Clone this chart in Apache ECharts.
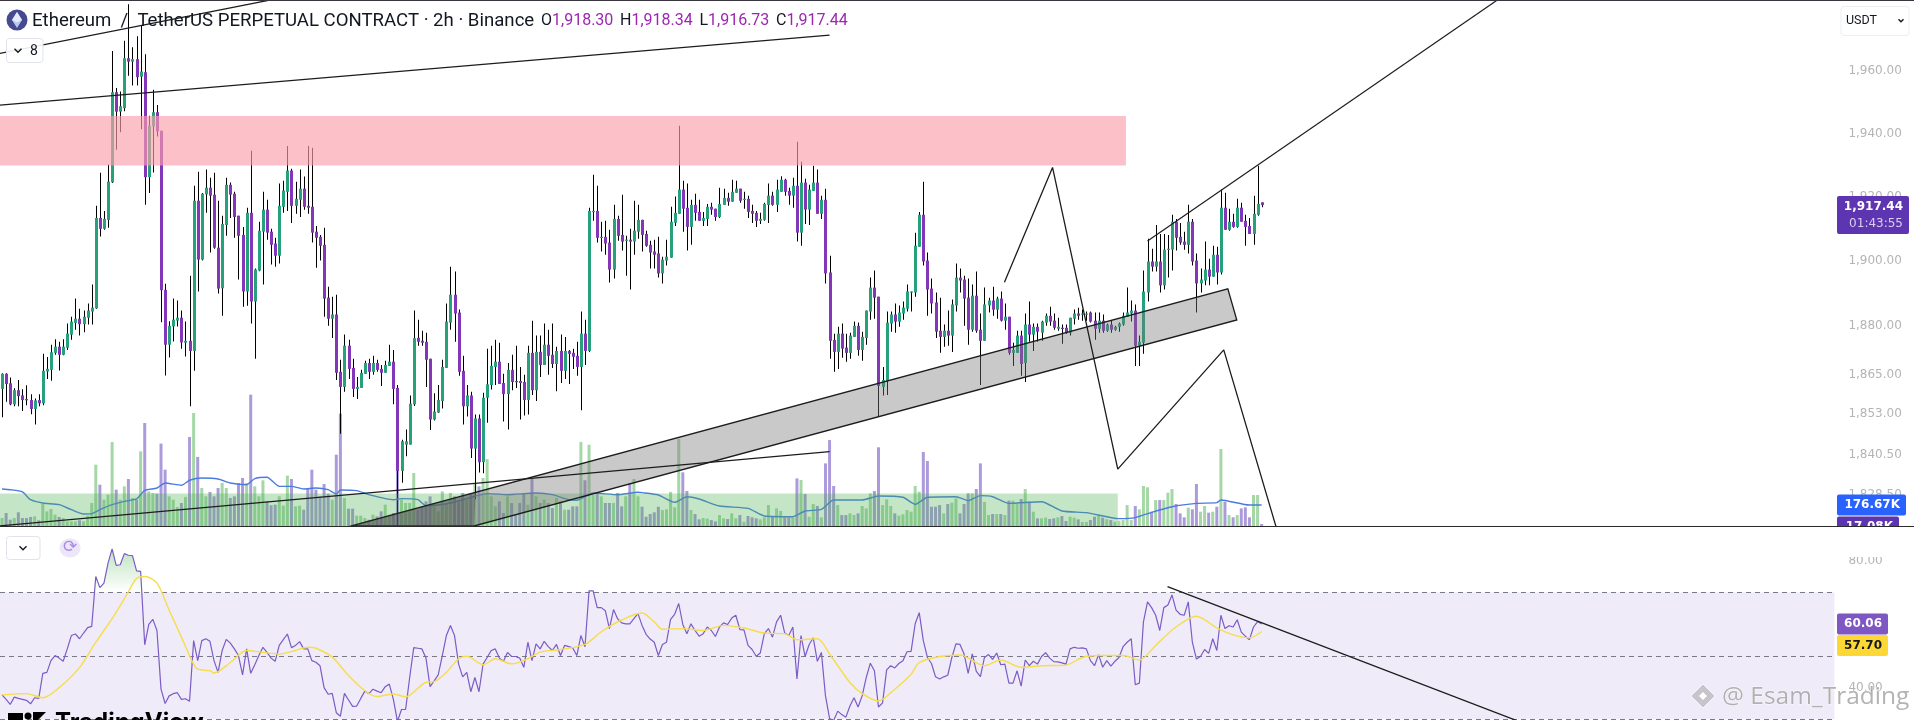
<!DOCTYPE html>
<html><head><meta charset="utf-8"><style>html,body{margin:0;padding:0;background:#fff}#c{width:1914px;height:720px}</style>
<script src="https://cdn.jsdelivr.net/npm/echarts@6/dist/echarts.min.js"></script></head><body><div id="c"></div>
<script>
const opens=[1860.6,1865.2,1862.3,1855.9,1860.2,1858.6,1857.5,1857.2,1854.5,1857.2,1856.2,1865.9,1866.4,1871.6,1873.5,1871.0,1873.2,1877.2,1880.8,1882.1,1880.4,1882.4,1884.3,1885.3,1913.4,1910.0,1912.8,1924.6,1953.2,1947.0,1948.1,1964.1,1963.0,1963.8,1958.2,1959.6,1926.2,1942.3,1946.8,1940.9,1891.0,1874.1,1879.7,1881.5,1882.4,1874.7,1875.3,1872.2,1918.8,1900.4,1920.8,1922.9,1920.7,1904.1,1891.5,1911.2,1923.8,1921.0,1914.1,1908.1,1890.5,1915.0,1887.4,1897.0,1909.1,1916.0,1909.1,1905.4,1901.6,1916.9,1921.6,1928.3,1917.2,1919.1,1922.6,1917.2,1916.9,1909.1,1907.5,1905.0,1888.6,1882.1,1883.4,1865.8,1861.2,1873.8,1867.0,1860.6,1860.9,1865.2,1868.5,1865.8,1868.5,1866.7,1865.5,1867.6,1868.9,1860.9,1835.8,1843.7,1843.7,1855.9,1876.2,1875.3,1875.0,1869.8,1851.3,1853.4,1856.9,1867.0,1880.9,1889.5,1884.0,1866.1,1855.3,1858.6,1842.5,1851.6,1838.4,1857.9,1861.8,1867.3,1868.9,1862.4,1859.0,1866.4,1863.0,1863.0,1862.7,1857.2,1871.6,1860.2,1871.9,1867.9,1874.1,1871.0,1868.2,1872.2,1866.1,1872.2,1871.6,1870.7,1867.3,1877.5,1872.2,1915.3,1915.6,1907.2,1907.5,1905.7,1897.3,1913.1,1908.1,1906.3,1906.6,1906.0,1909.1,1912.8,1908.4,1905.0,1902.9,1902.3,1896.1,1900.1,1901.0,1911.9,1914.7,1922.3,1916.6,1910.6,1917.5,1915.3,1912.5,1913.1,1916.9,1916.3,1913.7,1917.5,1919.7,1918.5,1921.3,1922.6,1919.1,1919.4,1915.6,1915.0,1912.5,1912.8,1917.5,1920.4,1917.5,1921.6,1925.4,1921.9,1920.4,1923.5,1908.8,1924.5,1916.0,1921.9,1924.5,1914.7,1919.1,1896.4,1875.6,1871.9,1877.5,1873.2,1871.6,1876.5,1879.9,1872.5,1876.2,1884.3,1891.7,1888.9,1861.2,1863.0,1880.6,1883.4,1881.2,1883.7,1885.2,1890.2,1890.2,1904.4,1914.4,1900.1,1891.4,1887.1,1878.4,1876.5,1878.4,1876.9,1886.2,1894.8,1894.2,1888.6,1878.7,1889.2,1878.7,1875.3,1886.2,1887.7,1884.9,1888.3,1881.5,1882.7,1871.6,1871.6,1876.9,1868.5,1880.3,1877.2,1879.6,1877.8,1880.9,1883.0,1881.5,1879.0,1879.3,1879.3,1877.8,1882.1,1883.7,1883.4,1883.4,1884.0,1881.5,1879.0,1881.5,1878.4,1880.3,1878.7,1879.6,1880.3,1882.7,1883.7,1884.6,1873.8,1874.7,1890.2,1899.8,1898.2,1899.8,1892.4,1903.5,1903.5,1912.2,1907.5,1906.0,1905.0,1912.2,1900.1,1893.0,1893.9,1897.3,1895.1,1901.9,1896.4,1916.6,1909.7,1912.2,1910.6,1916.6,1912.5,1910.9,1908.4,1914.4,1918.30];
const closes=[1865.2,1862.1,1855.9,1860.2,1858.4,1857.2,1857.3,1854.5,1857.1,1856.2,1866.1,1866.7,1871.8,1873.5,1871.0,1873.5,1877.5,1881.2,1882.1,1880.4,1882.7,1884.6,1885.5,1913.4,1910.0,1913.1,1924.8,1953.2,1947.0,1948.7,1964.1,1963.0,1963.8,1958.0,1959.8,1926.2,1942.5,1946.8,1940.7,1890.9,1874.1,1879.9,1881.8,1882.4,1874.8,1875.3,1872.2,1918.8,1900.4,1921.0,1922.9,1920.4,1904.1,1891.4,1911.5,1923.8,1920.7,1913.7,1907.8,1890.5,1915.0,1887.4,1897.3,1909.4,1916.0,1908.8,1905.0,1901.6,1917.2,1922.0,1928.3,1917.2,1919.4,1922.6,1916.9,1916.6,1908.8,1907.2,1904.7,1888.3,1882.1,1883.4,1865.5,1861.2,1873.8,1866.7,1860.6,1861.2,1865.5,1868.5,1865.8,1868.5,1866.4,1865.5,1867.9,1868.9,1860.6,1835.8,1844.7,1844.7,1856.1,1876.1,1875.0,1874.7,1869.5,1851.3,1853.7,1857.2,1867.3,1881.2,1889.5,1883.7,1865.8,1855.3,1858.6,1842.5,1851.6,1838.4,1857.9,1862.0,1867.6,1868.9,1862.1,1859.0,1866.4,1862.7,1862.7,1862.4,1857.2,1871.6,1860.2,1871.9,1867.9,1874.1,1870.7,1868.2,1872.2,1866.1,1872.2,1871.3,1870.4,1867.3,1877.5,1872.2,1915.6,1915.6,1907.2,1907.5,1905.4,1897.3,1913.1,1907.8,1906.0,1906.6,1906.0,1909.4,1912.8,1908.1,1904.7,1902.6,1901.9,1896.1,1900.4,1901.3,1912.2,1915.0,1922.3,1916.3,1910.6,1917.5,1915.0,1912.5,1913.4,1916.9,1916.0,1913.7,1917.8,1919.7,1918.5,1921.6,1922.6,1918.8,1919.4,1915.3,1914.7,1912.5,1913.1,1917.8,1920.4,1917.5,1922.3,1925.4,1921.6,1920.4,1923.5,1908.8,1924.5,1916.0,1922.3,1924.5,1914.7,1919.1,1896.1,1875.3,1871.9,1877.5,1872.9,1871.6,1876.9,1879.9,1872.5,1876.5,1884.6,1891.7,1888.6,1861.5,1863.3,1880.9,1883.4,1881.2,1884.0,1885.5,1890.5,1890.5,1904.7,1914.4,1899.8,1891.1,1886.8,1878.1,1876.5,1878.4,1876.9,1886.5,1894.8,1893.9,1888.3,1878.7,1889.2,1878.4,1875.3,1886.5,1887.7,1884.9,1888.3,1881.5,1882.7,1871.6,1872.5,1876.9,1868.2,1880.3,1877.2,1879.6,1878.1,1881.2,1883.0,1881.2,1879.3,1879.6,1879.0,1877.8,1882.4,1883.7,1883.0,1883.7,1883.7,1881.2,1879.0,1881.5,1878.4,1880.3,1878.7,1879.6,1880.6,1883.0,1884.0,1884.6,1873.8,1875.0,1890.5,1899.8,1898.2,1899.8,1892.4,1903.5,1903.8,1912.2,1907.2,1905.7,1905.0,1912.2,1899.8,1893.0,1894.2,1897.3,1895.1,1901.9,1896.4,1916.6,1909.7,1912.2,1910.6,1916.6,1912.2,1910.6,1908.4,1914.7,1917.8,1917.44];
const highs=[1865.4,1865.4,1864.1,1860.8,1863.3,1860.5,1861.7,1859.0,1857.7,1859.0,1871.3,1870.3,1874.1,1875.8,1875.0,1875.8,1880.6,1882.7,1888.3,1885.2,1884.6,1886.8,1892.7,1917.2,1927.6,1915.6,1930.2,1966.4,1954.5,1953.4,1969.7,1981.5,1967.6,1971.2,1974.7,1965.4,1945.7,1954.0,1949.1,1940.9,1892.9,1881.3,1888.3,1887.7,1884.6,1881.2,1895.4,1923.5,1927.9,1921.2,1928.6,1926.0,1927.6,1918.8,1914.1,1926.0,1924.5,1921.6,1914.1,1910.6,1916.6,1934.6,1897.6,1912.2,1921.6,1919.1,1910.0,1907.2,1924.2,1925.1,1936.1,1928.9,1924.8,1928.6,1926.4,1936.1,1935.5,1910.9,1908.1,1910.3,1892.0,1888.9,1889.5,1869.5,1877.2,1875.6,1869.8,1864.2,1866.4,1869.2,1869.8,1870.7,1869.5,1867.9,1869.2,1874.1,1872.5,1861.8,1845.2,1848.3,1858.6,1884.6,1881.8,1878.4,1877.8,1869.8,1859.3,1861.8,1869.5,1886.8,1898.2,1896.7,1884.9,1870.7,1861.8,1859.7,1852.8,1852.8,1859.4,1872.9,1873.8,1875.6,1874.7,1865.2,1868.5,1871.0,1873.8,1867.3,1864.9,1873.8,1881.5,1876.9,1876.9,1880.6,1878.7,1880.6,1873.5,1877.2,1876.5,1872.5,1872.9,1875.0,1884.3,1881.8,1916.6,1927.0,1923.5,1912.2,1912.5,1909.7,1917.5,1914.1,1920.7,1907.8,1910.0,1918.8,1917.5,1912.8,1909.4,1906.3,1906.6,1907.5,1901.3,1906.6,1916.9,1920.1,1942.5,1925.1,1924.2,1919.1,1921.0,1919.1,1915.3,1917.8,1918.2,1916.3,1922.9,1922.6,1921.3,1925.4,1925.1,1922.6,1921.6,1920.4,1917.5,1915.6,1915.0,1918.2,1924.2,1921.6,1925.4,1926.5,1925.7,1922.9,1926.0,1937.4,1931.1,1925.7,1923.8,1929.8,1928.6,1920.4,1922.6,1901.6,1877.5,1879.6,1880.6,1877.5,1877.8,1881.2,1880.9,1878.1,1884.6,1894.8,1897.0,1888.9,1867.3,1884.3,1884.3,1886.8,1886.2,1887.4,1892.7,1890.5,1908.8,1915.3,1924.8,1902.6,1894.5,1890.2,1888.6,1880.3,1884.6,1888.0,1899.2,1897.6,1895.4,1894.5,1892.7,1896.7,1883.7,1891.7,1888.6,1892.0,1888.9,1890.5,1886.8,1882.7,1874.7,1878.4,1878.4,1883.7,1887.4,1880.6,1880.6,1881.5,1883.7,1885.8,1883.7,1882.4,1880.3,1880.3,1882.4,1884.9,1885.5,1884.9,1884.3,1884.3,1884.0,1884.0,1883.4,1880.6,1881.5,1879.9,1880.9,1884.0,1891.7,1887.7,1886.5,1876.9,1897.0,1906.9,1903.8,1911.2,1908.4,1908.4,1908.1,1914.4,1913.1,1911.8,1909.1,1917.5,1913.1,1902.3,1897.6,1906.0,1900.7,1904.7,1904.4,1922.3,1921.3,1916.3,1914.7,1919.4,1918.2,1914.4,1913.4,1920.4,1929.8,1918.34];
const lows=[1852.0,1856.7,1855.6,1855.3,1855.3,1853.9,1855.6,1852.9,1849.8,1855.3,1855.6,1863.6,1863.1,1871.0,1866.2,1870.9,1872.5,1875.6,1878.7,1876.9,1877.9,1880.3,1880.3,1885.2,1907.6,1909.7,1910.3,1924.4,1934.9,1940.4,1947.1,1958.5,1955.3,1955.3,1941.4,1917.5,1921.2,1927.7,1939.1,1881.0,1864.7,1870.2,1875.1,1879.7,1872.9,1870.5,1855.3,1866.1,1890.5,1900.1,1915.0,1902.6,1903.8,1889.9,1883.0,1907.8,1913.4,1907.2,1894.2,1885.8,1886.1,1880.6,1869.8,1896.8,1892.7,1906.6,1898.9,1898.2,1899.2,1915.0,1915.6,1911.8,1914.7,1913.7,1916.0,1914.7,1905.7,1897.9,1900.1,1882.7,1879.9,1876.2,1863.3,1847.0,1859.7,1863.6,1858.1,1857.5,1860.9,1865.2,1863.6,1864.9,1865.8,1861.5,1865.5,1867.6,1855.9,1819.4,1832.2,1840.2,1843.7,1855.4,1873.8,1873.8,1861.2,1848.1,1851.0,1853.3,1854.6,1867.0,1878.7,1875.0,1864.6,1849.8,1852.2,1839.7,1827.3,1835.3,1835.1,1850.3,1860.4,1861.8,1862.1,1850.7,1848.3,1860.2,1860.9,1851.3,1852.5,1852.8,1858.7,1856.9,1864.2,1867.9,1864.9,1867.0,1859.9,1862.4,1863.6,1862.1,1866.7,1864.6,1854.1,1867.9,1871.9,1912.5,1905.7,1902.9,1901.9,1893.3,1894.5,1906.3,1903.2,1895.4,1891.1,1901.9,1906.9,1902.9,1904.4,1897.6,1897.6,1894.8,1893.0,1898.6,1901.0,1910.9,1914.7,1909.1,1903.2,1905.0,1912.5,1912.5,1910.9,1910.9,1914.4,1912.5,1913.4,1917.5,1917.2,1918.5,1921.3,1918.2,1916.3,1913.4,1911.8,1910.6,1911.5,1912.5,1911.8,1917.2,1915.3,1921.6,1920.4,1917.5,1916.6,1906.0,1904.7,1911.5,1911.2,1921.9,1914.7,1913.1,1893.0,1869.8,1865.8,1866.7,1870.1,1868.9,1869.8,1876.5,1870.7,1869.2,1874.1,1881.8,1882.1,1852.2,1858.6,1858.7,1878.1,1877.8,1879.6,1881.8,1884.3,1884.3,1888.9,1904.4,1898.6,1883.0,1883.7,1876.2,1871.6,1873.5,1873.8,1871.9,1884.3,1890.2,1879.9,1874.1,1878.1,1877.8,1861.8,1875.3,1884.0,1883.0,1882.1,1881.2,1878.7,1871.0,1867.6,1871.6,1864.6,1862.7,1875.0,1872.2,1875.0,1875.3,1879.9,1879.9,1878.7,1878.4,1874.4,1877.5,1876.9,1880.3,1881.8,1881.5,1881.5,1880.9,1875.6,1877.8,1877.8,1878.1,1877.8,1878.4,1878.1,1879.9,1882.7,1881.2,1867.6,1867.6,1871.3,1887.4,1896.7,1896.7,1890.2,1891.1,1894.8,1897.0,1903.2,1905.0,1903.5,1902.3,1898.6,1884.0,1890.2,1892.4,1892.4,1895.1,1892.7,1895.8,1909.7,1909.4,1910.3,1910.3,1912.2,1904.7,1908.4,1905.0,1914.1,1916.73];
const volumes=[67,109,53,67,115,67,67,76,81,48,185,123,143,95,76,67,39,39,39,48,39,87,193,515,347,221,263,706,305,221,333,395,235,221,627,865,291,277,272,692,473,249,221,160,193,244,748,949,580,319,249,286,249,319,361,319,235,249,361,403,361,1103,333,249,384,207,174,179,249,171,423,395,165,171,137,319,473,305,249,353,272,221,599,944,235,146,146,87,87,67,53,95,81,123,179,95,109,795,221,193,193,445,137,165,207,249,193,123,291,193,277,249,221,277,221,277,361,333,403,563,249,165,207,109,249,193,95,193,277,179,403,249,193,221,193,151,235,207,137,137,165,165,706,384,683,263,277,249,193,193,193,277,165,249,361,395,249,162,78,101,115,162,134,140,286,157,731,451,294,134,101,56,67,62,50,39,92,64,59,106,64,92,36,84,73,64,56,73,176,78,148,126,73,73,73,400,386,269,78,185,168,73,526,722,336,176,92,92,106,92,106,168,148,274,294,661,176,224,168,106,87,98,134,120,336,288,622,546,162,162,176,106,185,196,232,106,185,274,274,311,526,202,92,101,101,101,92,213,213,190,227,311,204,120,64,64,70,59,64,73,84,42,78,70,56,34,34,50,78,84,70,56,50,36,45,50,176,50,168,140,336,325,120,218,218,218,280,311,185,106,73,154,140,353,120,168,112,120,162,647,204,92,73,92,148,157,73,260,260,17.08];
const volumeMA=[[0,311],[2,305],[5,286],[7,221],[10,193],[14,179],[17,137],[20,101],[22,104],[24,137],[27,179],[30,207],[33,227],[35,299],[38,319],[40,361],[44,342],[46,384],[49,403],[53,395],[56,361],[60,347],[62,398],[65,409],[68,333],[71,333],[74,311],[77,319],[80,305],[82,269],[83,302],[87,297],[90,263],[96,221],[98,230],[102,221],[104,171],[110,193],[116,249],[119,272],[124,263],[131,277],[135,263],[139,221],[141,216],[145,277],[151,263],[156,283],[157,280],[161,260],[165,199],[168,246],[171,227],[176,168],[183,148],[187,84],[194,78],[197,126],[201,140],[204,218],[211,218],[215,252],[221,241],[224,182],[227,241],[234,246],[237,213],[240,255],[243,246],[247,190],[255,204],[260,126],[266,112],[274,62],[278,70],[282,115],[287,162],[293,190],[298,196],[299,218],[306,176],[309,176.67]];
const rsi=[37.7,36.3,34.7,37.0,36.6,36.3,36.0,34.9,36.8,36.6,44.5,44.8,48.5,50.1,49.3,48.3,52.2,56.4,56.9,55.4,57.2,58.9,59.3,75.0,71.5,72.9,79.2,83.7,78.5,78.7,82.2,81.7,81.6,76.8,76.6,53.5,59.9,61.5,58.0,39.5,35.0,37.4,38.1,38.4,36.3,36.5,35.7,54.8,48.5,54.8,55.4,54.6,48.5,44.8,51.7,55.2,54.0,52.2,50.1,44.0,52.2,44.5,47.2,50.1,52.7,51.1,49.3,48.3,53.3,55.1,56.9,52.6,53.3,54.5,52.2,52.2,48.5,48.0,46.9,40.0,37.9,38.2,32.1,31.0,38.2,36.1,34.1,34.2,36.6,38.9,38.1,39.5,38.9,38.4,40.3,41.1,36.3,29.4,33.1,33.1,43.2,52.6,52.4,52.2,49.3,40.3,42.1,44.0,50.1,56.4,59.6,56.4,47.4,43.4,44.8,38.7,43.2,38.7,47.4,49.5,51.7,52.2,49.3,48.3,51.1,49.8,49.8,49.3,46.4,54.3,48.5,53.8,52.2,54.6,52.9,51.7,53.6,50.1,53.3,52.9,52.5,50.1,56.4,52.9,70.5,70.5,65.2,65.2,64.2,58.6,64.6,61.7,60.4,60.1,60.1,61.7,63.3,59.6,56.8,55.3,54.3,50.1,53.6,54.3,61.5,63.1,66.5,59.9,57.0,60.1,58.0,56.2,57.0,59.1,58.0,56.1,59.1,60.4,59.9,61.9,62.8,58.3,58.2,53.3,52.0,49.9,50.9,57.0,58.6,55.9,60.7,62.8,57.2,56.4,59.1,42.7,56.4,49.8,53.6,55.7,48.3,51.1,37.4,30.3,29.6,32.6,31.5,30.7,34.2,36.8,33.9,37.4,43.2,47.7,45.3,33.9,35.2,45.6,46.9,46.2,47.6,48.5,51.3,51.4,60.1,63.6,54.8,49.5,47.6,43.4,42.7,43.4,43.9,49.5,53.8,53.6,50.6,44.5,50.6,45.1,43.5,49.5,50.4,48.9,50.9,47.2,47.4,41.4,41.4,45.3,40.5,48.7,46.9,48.3,47.4,49.8,51.0,49.3,48.2,48.1,47.8,47.4,52.2,52.7,52.4,52.5,52.2,48.5,46.9,50.4,46.4,48.5,46.8,48.3,49.5,52.9,54.3,55.4,40.9,41.4,60.7,67.0,65.2,62.8,58.0,65.2,66.0,69.2,64.4,63.1,62.8,67.0,54.3,49.0,49.8,52.0,50.8,55.4,51.7,62.8,58.6,59.5,59.1,61.4,57.5,56.2,55.1,59.1,60.8,60.06];
const rsiMA=[[0,37.7],[6,38.1],[10,36.8],[14,40],[19,46.3],[23,54.3],[27,61.7],[31,70.2],[33,74.4],[35,75],[38,72.9],[41,64.4],[44,55.9],[47,47.4],[48,45.8],[51,45.3],[52,44.6],[56,47.9],[60,51.7],[64,51.1],[68,50.6],[72,51.7],[75,52.7],[77,52.4],[81,49.6],[85,43.8],[89,39],[92,37.2],[96,38],[99,37.1],[104,41.7],[106,41.9],[109,44.8],[112,49.1],[114,49.9],[118,47.2],[121,49.1],[125,47.5],[129,49.1],[132,51.2],[137,52],[143,53.6],[147,57.6],[152,61.3],[157,63.5],[160,60.7],[162,58.4],[167,58.6],[172,58],[177,59.6],[182,58.8],[187,57.2],[192,57],[195,55.1],[200,55.4],[203,50.6],[208,41.6],[211,38.1],[215,35.8],[219,39.5],[223,44.2],[225,47.9],[230,49.8],[235,50.3],[241,46.9],[245,48.7],[250,46.4],[255,46.9],[261,47.1],[265,49.5],[269,50.1],[275,50.1],[279,48.7],[283,53.3],[288,59.1],[293,62.5],[298,58.8],[302,56.6],[306,55.7],[309,57.7]];
const priceTicks=[1960,1940,1920,1900,1880,1865,1853,1840.5,1828.5];
const rsiTicks=[80,40];
const rsiLevels=[70,50,30];
const resistanceZone=[-1,1945.6,275.7,1929.9];
const volumeZone=[-1,1829.0,273.7,1810];
const channelBand=[85.7,1819.3,300.7,1891.3,302.9,1881.7,115.8,1819.3];
const channelShade=[85.7,1819.3,116.2,1829.3,116.2,1829.3,115.8,1819.3];
const trendA=[[-1,1965.5],[70,1984]];
const trendB=[[-1,1949.0],[203,1971.5]];
const trendC=[[-1,1819.3],[203,1841.6]];
const zigzagUpper=[[245.9,1893.4],[257.7,1929.3],[273.7,1836.3],[299.7,1872.5],[313.5,1815.1]];
const risingLine=[[281,1906.2],[370,1985.8]];
const rsiTrend=[[285.9,71.8],[372,29.4]];
const BARS=450;

const GREEN='#26a17b',PURPLE='#8436b8',STEP=4.078;
const candleData=opens.map((o,i)=>[i,o,highs[i],lows[i],closes[i]]);
const volumeData=volumes.map((v,i)=>({value:v,itemStyle:{color:closes[i]>=opens[i]?'rgba(76,175,80,0.5)':'rgba(103,72,190,0.55)'}}));
const categories=Array.from({length:BARS},(_,i)=>String(i));
const fmt=v=>Number(v).toLocaleString('en-US',{minimumFractionDigits:2,maximumFractionDigits:2});
const line=(data,extra)=>Object.assign({type:'line',xAxisIndex:1,yAxisIndex:0,data,symbol:'none',silent:true,z:8,lineStyle:{color:'#1c1c1c',width:1.3}},extra||{});

function renderCandle(p,api){
  const i=api.value(0),o=api.value(1),h=api.value(2),l=api.value(3),c=api.value(4);
  const x=Math.round(api.coord([i,o])[0]);
  const yH=api.coord([i,h])[1],yL=api.coord([i,l])[1],yO=api.coord([i,o])[1],yC=api.coord([i,c])[1];
  const top=Math.min(yO,yC),bh=Math.max(1.2,Math.abs(yO-yC));
  return {type:'group',children:[
    {type:'rect',shape:{x:x,y:yH,width:1,height:yL-yH},style:{fill:'#000'}},
    {type:'rect',shape:{x:x-1,y:top,width:3,height:bh},style:{fill:c>=o?GREEN:PURPLE}}
  ]};
}
function renderPoly(fill,stroke){return (p,api)=>{
  const pts=[];for(let k=0;k<8;k+=2)pts.push(api.coord([api.value(k),api.value(k+1)]));
  return {type:'polygon',shape:{points:pts},style:{fill,stroke:stroke||null,lineWidth:stroke?1.3:0}};
};}
function renderRect(fill){return (p,api)=>{
  const a=api.coord([api.value(0),api.value(1)]),b=api.coord([api.value(2),api.value(3)]);
  return {type:'rect',shape:{x:a[0],y:a[1],width:b[0]-a[0],height:b[1]-a[1]},style:{fill}};
};}
function tag(val,label,fill,txtc,w,h,xi,yi,dy,sub){
  return {type:'custom',xAxisIndex:xi,yAxisIndex:yi,z:20,clip:false,silent:true,data:[[0,val]],encode:{x:0,y:1},
   renderItem:(p,api)=>{
     const yc=api.coord([0,val])[1]+dy;
     const ch=[{type:'rect',shape:{x:1837,y:yc-(sub?11:h/2),width:w,height:h,r:2},style:{fill}},
      {type:'text',style:{x:1837+w-6,y:yc,text:label,fill:txtc,font:'bold 12px "DejaVu Sans"',align:'right',verticalAlign:'middle'}}];
     if(sub)ch.push({type:'text',style:{x:1837+w-6,y:yc+17,text:sub,fill:'#d9cff0',font:'12px "DejaVu Sans"',align:'right',verticalAlign:'middle'}});
     return {type:'group',children:ch};
   }};
}
const chevron=(cx,cy,s)=>({type:'polyline',z:50,shape:{points:[[cx-s,cy-s/2],[cx,cy+s/2],[cx+s,cy-s/2]]},style:{stroke:'#131722',lineWidth:1.4,fill:null}});
const txt=(x,y,text,font,fill,extra)=>({type:'text',z:50,x,y,style:Object.assign({text,font,fill,verticalAlign:'middle'},extra||{})});

const chrome=[
 {type:'rect',z:40,shape:{x:1837,y:527,width:77,height:30},style:{fill:'#fff'}},
 {type:'rect',z:41,shape:{x:0,y:526,width:1914,height:1},style:{fill:'#2a2a2a'}},
 {type:'rect',z:41,shape:{x:0,y:0,width:1914,height:1},style:{fill:'#3a3640'}},
 {type:'circle',z:50,shape:{cx:17,cy:20,r:10.5},style:{fill:'#454a8f'}},
 {type:'polygon',z:51,shape:{points:[[17,12],[22,20],[17,28],[12,20]]},style:{fill:'#b9c6ee'}},
 {type:'polygon',z:52,shape:{points:[[17,12],[22,20],[17,22.5],[12,20]]},style:{fill:'#e4eafb'}},
 txt(32,21,'Ethereum  /  TetherUS PERPETUAL CONTRACT · 2h · Binance','18.6px Roboto','#131722'),
 {type:'text',z:50,x:541,y:21,style:{verticalAlign:'middle',rich:{k:{font:'16px Roboto',fill:'#131722'},v:{font:'16px Roboto',fill:'#9c27b0'}},text:'{k|O}{v|1,918.30}  {k|H}{v|1,918.34}  {k|L}{v|1,916.73}  {k|C}{v|1,917.44}'}},
 {type:'rect',z:49,shape:{x:6.5,y:38.5,width:36.5,height:24,r:3},style:{fill:'rgba(255,255,255,0.9)',stroke:'#e0e3eb',lineWidth:1}},
 chevron(18,50.5,3.5),
 txt(30,51,'8','14px Roboto','#131722'),
 {type:'rect',z:49,shape:{x:6.5,y:536.5,width:33.5,height:23,r:3},style:{fill:'#fff',stroke:'#e0e3eb',lineWidth:1}},
 chevron(23,548,3.5),
 {type:'ellipse',z:49,shape:{cx:70,cy:548,rx:10.5,ry:9.5},style:{fill:'#ede5fa'}},
 txt(70,548,'⟳','17px "DejaVu Sans"','#a98be0',{align:'center'}),
 {type:'rect',z:49,shape:{x:1841,y:6.5,width:68,height:29,r:3},style:{fill:'#fff',stroke:'#eceef2',lineWidth:1}},
 txt(1846,21,'USDT','12.5px Roboto','#131722'),
 chevron(1901,20.5,2.5),
 {type:'rect',z:49,shape:{x:8,y:713,width:15,height:7},style:{fill:'#000'}},
 {type:'circle',z:49,shape:{cx:28,cy:716,r:3.5},style:{fill:'#000'}},
 {type:'polygon',z:49,shape:{points:[[33,712],[46,712],[38,720],[33,720]]},style:{fill:'#000'}},
 txt(55,723,'TradingView','bold 24px Inter','#000'),
 {type:'polygon',z:60,shape:{points:[[1703,684],[1715,696],[1703,708],[1691,696]]},style:{fill:'rgba(165,165,165,0.55)',stroke:'rgba(255,255,255,0.8)',lineWidth:1}},
 {type:'polygon',z:61,shape:{points:[[1703,692],[1707,696],[1703,700],[1699,696]]},style:{fill:'#fff'}},
 Object.assign(txt(1722,697,'@ Esam_Trading','24.5px "Open Sans"','rgba(150,150,150,0.72)',{stroke:'rgba(255,255,255,0.75)',lineWidth:1}),{z:60})
];

const option={
 animation:false,backgroundColor:'#fff',
 graphic:{elements:chrome},
 grid:[{left:-0.7,top:0,width:STEP*BARS,height:526,containLabel:false},{left:-0.7,top:527,width:STEP*BARS,height:193}],
 xAxis:[
  {type:'category',gridIndex:0,data:categories,show:false},
  {type:'value',gridIndex:0,min:-0.5,max:BARS-0.5,show:false},
  {type:'value',gridIndex:1,min:-0.5,max:BARS-0.5,show:false}
 ],
 yAxis:[
  {type:'log',gridIndex:0,logBase:10,min:1819.3,max:1982.9,position:'right',splitLine:{show:false},axisLine:{show:false},axisTick:{show:false},
   axisLabel:{customValues:priceTicks,formatter:fmt,color:'#b4b4b4',fontFamily:'DejaVu Sans',fontSize:12,margin:14,align:'left',padding:[2,0,0,0],showMinLabel:true,showMaxLabel:true}},
  {type:'value',gridIndex:0,min:0,max:4418,show:false,splitLine:{show:false}},
  {type:'value',gridIndex:1,min:29.8,max:90.6,position:'right',splitLine:{show:false},axisLine:{show:false},axisTick:{show:false},
   axisLabel:{customValues:rsiTicks,formatter:fmt,color:'#b4b4b4',fontFamily:'DejaVu Sans',fontSize:12,margin:14,align:'left',padding:[2,0,0,0]}}
 ],
 series:[
  {type:'bar',xAxisIndex:0,yAxisIndex:1,data:volumeData,barWidth:3,z:2,silent:true},
  {type:'custom',xAxisIndex:1,yAxisIndex:0,data:candleData,encode:{x:0,y:[1,2,3,4]},renderItem:renderCandle,z:3,clip:true,silent:true},
  line(volumeMA,{xAxisIndex:1,yAxisIndex:1,smooth:0.2,z:4,lineStyle:{color:'#4a7be0',width:1.4}}),
  {type:'custom',xAxisIndex:1,yAxisIndex:0,data:[resistanceZone],encode:{x:[0,2],y:[1,3]},renderItem:renderRect('rgba(250,160,170,0.65)'),z:5,clip:true,silent:true},
  {type:'custom',xAxisIndex:1,yAxisIndex:0,data:[volumeZone],encode:{x:[0,2],y:[1,3]},renderItem:renderRect('rgba(76,175,80,0.32)'),z:5,clip:true,silent:true},
  {type:'custom',xAxisIndex:1,yAxisIndex:0,data:[channelBand],encode:{x:[0,2,4,6],y:[1,3,5,7]},renderItem:renderPoly('rgba(120,120,120,0.4)','#1c1c1c'),z:6,clip:true,silent:true},
  {type:'custom',xAxisIndex:1,yAxisIndex:0,data:[channelShade],encode:{x:[0,2,4,6],y:[1,3,5,7]},renderItem:renderPoly('rgba(70,70,70,0.38)'),z:6,clip:true,silent:true},
  line(trendA),line(trendB),line(trendC),line(zigzagUpper),line(risingLine,{lineStyle:{color:'#1c1c1c',width:1.2}}),
  {type:'line',xAxisIndex:2,yAxisIndex:2,data:rsi.map((v,i)=>[i,v]),symbol:'none',silent:true,z:4,lineStyle:{color:'#7a5cc4',width:1.2},
   markArea:{silent:true,z:1,itemStyle:{color:'#f0ebf9'},data:[[{yAxis:rsiLevels[0]},{yAxis:rsiLevels[2]}]]},
   markLine:{silent:true,symbol:'none',label:{show:false},z:2,lineStyle:{color:'#787b86',type:[5,4],width:1},data:rsiLevels.map(v=>({yAxis:v}))}},
  {type:'line',xAxisIndex:2,yAxisIndex:2,data:rsi.slice(23,35).map((v,i)=>[i+23,v]),symbol:'none',silent:true,z:3,lineStyle:{opacity:0},
   areaStyle:{origin:70,color:{type:'linear',x:0,y:0,x2:0,y2:1,colorStops:[{offset:0,color:'rgba(76,175,80,0.5)'},{offset:1,color:'rgba(76,175,80,0)'}]}}},
  {type:'line',xAxisIndex:2,yAxisIndex:2,data:rsiMA,symbol:'none',smooth:0.3,silent:true,z:5,lineStyle:{color:'#f6dd4a',width:1.4}},
  line(rsiTrend,{xAxisIndex:2,yAxisIndex:2}),
  tag(closes[closes.length-1],fmt(closes[closes.length-1]),'#5e35b1','#fff',72,38,1,0,2,'01:43:55'),
  tag(176.67,'176.67K','#2962ff','#fff',69,21,1,1,0),
  tag(17.08,'17.08K','#5e35b1','#fff',62,21,1,1,3),
  tag(rsi[rsi.length-1],fmt(rsi[rsi.length-1]),'#7e57c2','#fff',51,21,2,2,0),
  tag(57.70,fmt(57.70),'#fdd835','#131722',51,21,2,2,14)
 ]
};
const chart=echarts.init(document.getElementById('c'));
chart.setOption(option);
</script></body></html>
